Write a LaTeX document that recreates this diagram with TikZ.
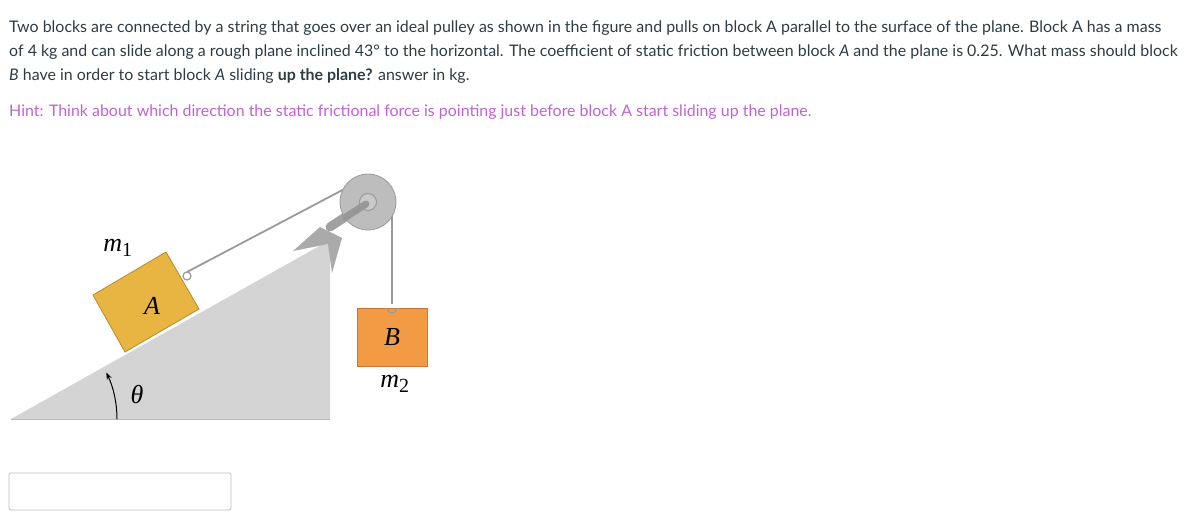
\documentclass[tikz,border=0pt]{standalone}
\usepackage{fontspec}
\setmainfont{Lato}
\usetikzlibrary{arrows.meta}
\definecolor{txt}{HTML}{2D3B45}
\definecolor{hint}{HTML}{C062D4}
\definecolor{plane}{HTML}{D4D4D4}
\definecolor{blockA}{HTML}{E8B543}
\definecolor{blockAe}{HTML}{B88A2A}
\definecolor{blockB}{HTML}{F39A45}
\definecolor{blockBe}{HTML}{C97530}
\definecolor{pul}{HTML}{BDBDBD}
\definecolor{puld}{HTML}{9A9A9A}
\newfontfamily\tms{Liberation Serif}
\begin{document}
\begin{tikzpicture}[x=1pt,y=-1pt,
  line/.style={anchor=base west,inner sep=0pt,text=txt,font=\fontsize{15.95}{19}\selectfont},
  lbl/.style={inner sep=0pt,font=\tms\itshape\fontsize{26}{26}\selectfont},
  str/.style={draw=puld,line width=1.8pt}]
\useasboundingbox (0,0) rectangle (1192,516);
\node[line] (l1) at (9,33) {Two blocks are connected by a string that goes over an ideal pulley as shown in the figure and pulls on block A parallel to the surface of the plane. Block A\ has a mass};
\node[line] (l2) at (9,57) {of 4 kg and can slide along a rough plane inclined 43° to the horizontal. The coefficient of static friction between block \textit{A} and the plane is 0.25. What mass should block};
\node[line] (l3) at (9,81) {\textit{B} have in order to start block \textit{A} sliding \textbf{up the plane?} answer in kg.};
\node[line,text=hint] (hint) at (9,117) {Hint: Think about which direction the static frictional force is pointing just before block A start sliding up the plane.};
% plane
\fill[plane] (11,419) -- (330,419) -- (330,240) -- cycle;
\draw[puld!70,line width=0.8pt] (11,419) -- (330,419);
% strings
\draw[str] (187,272) -- (352,185);
\draw[str] (392,202) -- (392,304);
% bracket
\fill[pul!90!black] (293,251) -- (320,227) -- (342,238) -- (332,273) -- (328,244) -- cycle;
\draw[pul!85!black,line width=9pt,line cap=round] (368,202) -- (330,227);
% pulley
\node[circle,fill=pul,draw=puld,line width=0.8pt,minimum size=56pt,inner sep=0pt] (pulley) at (368,202) {};
\node[circle,fill=pul!80!white,draw=puld,line width=1pt,minimum size=17pt,inner sep=0pt] (hub) at (368,202) {};
\draw[pul!80!black,line width=7pt,line cap=round] (366,204) -- (346,217);
% block A
\fill[blockA,draw=blockAe,line width=0.8pt] (93,295) -- (166,252) -- (199,309) -- (125,352) -- cycle;
\draw[puld,line width=1.2pt] (187,276) circle (4);
\node[lbl] (A) at (152,306) {A};
% block B
\node[draw=blockBe,fill=blockB,line width=0.8pt,minimum width=70pt,minimum height=58pt,inner sep=0pt] (B) at (392,337) {};
\node[lbl] at (B.center) {B};
\draw[puld,line width=1.2pt] (387,308) arc (180:0:5);
% labels
\node[lbl] (m1) at (118,248) {m\textsubscript{\upshape\fontsize{20}{20}\selectfont 1}};
\node[lbl] (m2) at (395,384) {m\textsubscript{\upshape\fontsize{20}{20}\selectfont 2}};
\node[lbl] (th) at (137,395) {θ};
\draw[-{Stealth[length=7pt]},line width=1pt] (117,419) arc (0:-26:106);
% answer box
\draw[draw=black!25,line width=0.8pt,rounded corners=2pt] (9,473) rectangle (231,510);
\end{tikzpicture}
\end{document}
